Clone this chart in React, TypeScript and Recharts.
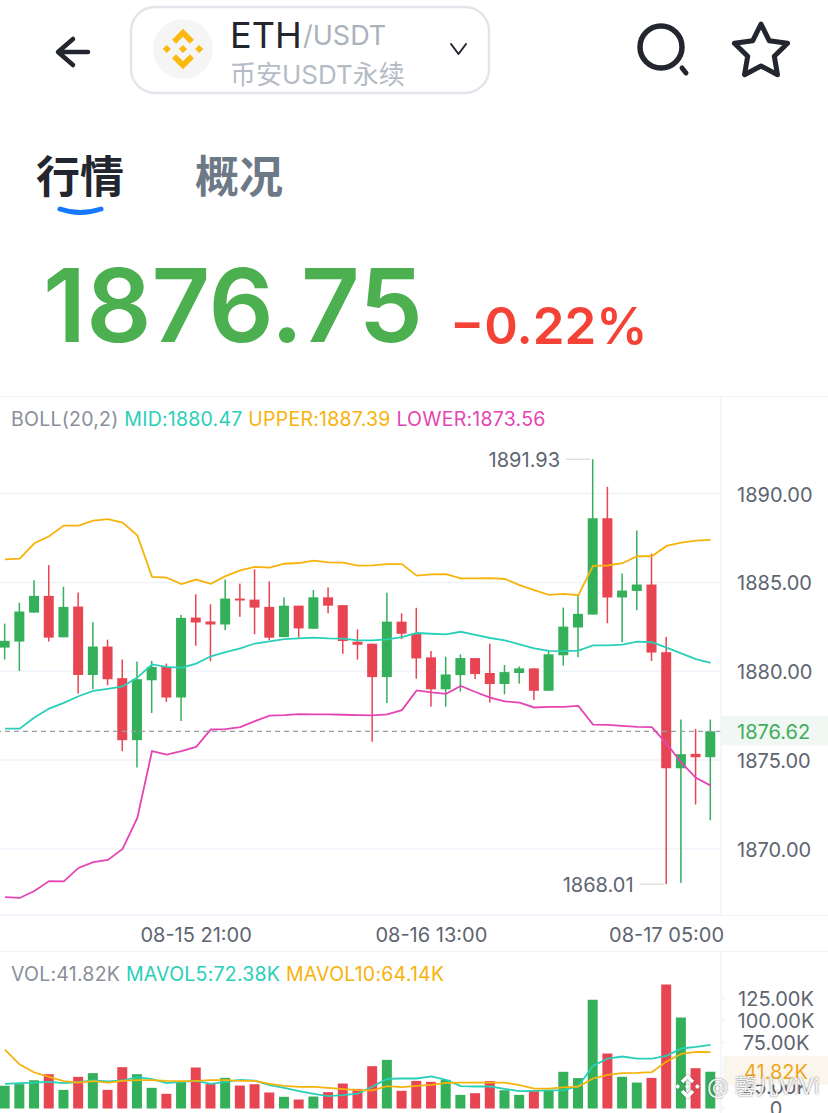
import React from 'react';
import {
  ComposedChart,
  Bar,
  Line,
  XAxis,
  YAxis,
  CartesianGrid,
  Cell,
  ReferenceLine,
  ReferenceDot,
} from 'recharts';

const TIMES = [
  '08-15 08:00', '08-15 09:00', '08-15 10:00', '08-15 11:00', '08-15 12:00', '08-15 13:00', '08-15 14:00',
  '08-15 15:00', '08-15 16:00', '08-15 17:00', '08-15 18:00', '08-15 19:00', '08-15 20:00', '08-15 21:00',
  '08-15 22:00', '08-15 23:00', '08-16 00:00', '08-16 01:00', '08-16 02:00', '08-16 03:00', '08-16 04:00',
  '08-16 05:00', '08-16 06:00', '08-16 07:00', '08-16 08:00', '08-16 09:00', '08-16 10:00', '08-16 11:00',
  '08-16 12:00', '08-16 13:00', '08-16 14:00', '08-16 15:00', '08-16 16:00', '08-16 17:00', '08-16 18:00',
  '08-16 19:00', '08-16 20:00', '08-16 21:00', '08-16 22:00', '08-16 23:00', '08-17 00:00', '08-17 01:00',
  '08-17 02:00', '08-17 03:00', '08-17 04:00', '08-17 05:00', '08-17 06:00', '08-17 07:00', '08-17 08:00',
];
const TIME_TICKS = ['08-15 21:00', '08-16 13:00', '08-17 05:00'];

const OPENS = [
  1881.33, 1881.67, 1883.3, 1884.24, 1881.91, 1883.64, 1879.79, 1881.39, 1879.61, 1876.12,
  1879.49, 1880.24, 1878.52, 1883.02, 1882.8, 1882.63, 1884.09, 1884.03, 1883.62, 1881.92,
  1883.69, 1882.39, 1884.16, 1883.72, 1881.66, 1881.55, 1879.67, 1882.79, 1882.13, 1880.78,
  1878.98, 1879.78, 1880.74, 1879.9, 1879.28, 1879.9, 1880.16, 1878.9, 1880.9, 1882.46,
  1883.19, 1888.61, 1884.15, 1884.52, 1884.88, 1881.07, 1874.54, 1875.35, 1875.16,
];
const CLOSES = [
  1881.71, 1883.36, 1884.24, 1881.89, 1883.62, 1879.79, 1881.39, 1879.55, 1876.12, 1879.55,
  1880.24, 1878.52, 1883.0, 1882.74, 1882.63, 1884.09, 1883.98, 1883.58, 1881.89, 1883.69,
  1882.41, 1884.16, 1883.69, 1881.7, 1881.49, 1879.67, 1882.79, 1882.11, 1880.72, 1878.98,
  1879.82, 1880.74, 1879.84, 1879.28, 1879.95, 1880.16, 1878.9, 1880.95, 1882.51, 1883.23,
  1888.61, 1884.15, 1884.54, 1884.88, 1881.05, 1874.54, 1875.33, 1875.16, 1876.62,
];
const HIGHS = [
  1882.68, 1883.85, 1885.12, 1885.97, 1884.75, 1884.43, 1882.76, 1881.78, 1880.66, 1880.54,
  1880.58, 1880.43, 1883.17, 1884.33, 1883.77, 1885.16, 1884.93, 1885.74, 1885.05, 1884.16,
  1883.69, 1884.57, 1884.72, 1883.72, 1882.35, 1881.55, 1884.42, 1883.26, 1883.57, 1881.14,
  1880.82, 1880.95, 1880.74, 1881.55, 1880.35, 1880.27, 1880.16, 1881.14, 1883.58, 1884.28,
  1891.93, 1890.38, 1885.5, 1887.92, 1886.62, 1881.93, 1877.28, 1876.75, 1877.28,
];
const LOWS = [
  1880.66, 1880.02, 1883.3, 1881.67, 1881.91, 1878.74, 1878.99, 1879.21, 1875.5, 1874.58,
  1877.65, 1878.27, 1877.2, 1881.43, 1880.56, 1882.31, 1883.06, 1882.08, 1881.74, 1881.92,
  1881.89, 1882.39, 1883.26, 1880.98, 1880.65, 1876.03, 1878.21, 1881.81, 1879.58, 1878.0,
  1878.0, 1878.85, 1879.56, 1878.23, 1878.7, 1879.3, 1878.38, 1878.89, 1880.32, 1880.79,
  1883.19, 1882.7, 1881.63, 1883.43, 1880.58, 1868.01, 1868.09, 1872.5, 1871.61,
];
const BOLL_UPPER = [
  1886.3, 1886.34, 1887.2, 1887.6, 1888.2, 1888.2, 1888.48, 1888.56, 1888.37, 1887.65,
  1885.31, 1885.27, 1884.9, 1885.16, 1884.92, 1885.35, 1885.68, 1885.87, 1885.83, 1886.05,
  1886.09, 1886.22, 1886.13, 1886.11, 1885.94, 1885.96, 1886.03, 1886.03, 1885.38, 1885.45,
  1885.47, 1885.23, 1885.23, 1885.24, 1885.19, 1884.85, 1884.57, 1884.3, 1884.35, 1884.28,
  1885.93, 1885.95, 1886.08, 1886.47, 1886.47, 1887.05, 1887.24, 1887.35, 1887.39,
];
const BOLL_MID = [
  1876.77, 1876.77, 1877.39, 1877.9, 1878.22, 1878.59, 1878.89, 1879.01, 1879.14, 1879.64,
  1880.38, 1880.24, 1880.19, 1880.43, 1880.84, 1881.07, 1881.29, 1881.56, 1881.68, 1881.81,
  1881.85, 1881.89, 1881.85, 1881.83, 1881.74, 1881.74, 1881.79, 1881.92, 1882.15, 1882.11,
  1882.07, 1882.22, 1882.05, 1881.87, 1881.74, 1881.51, 1881.29, 1881.14, 1881.13, 1881.16,
  1881.46, 1881.46, 1881.5, 1881.67, 1881.63, 1881.33, 1881.0, 1880.68, 1880.47,
];
const BOLL_LOWER = [
  1867.29, 1867.24, 1867.63, 1868.19, 1868.17, 1868.93, 1869.26, 1869.38, 1870.0, 1871.74,
  1875.5, 1875.31, 1875.5, 1875.74, 1876.72, 1876.74, 1876.85, 1877.19, 1877.5, 1877.53,
  1877.59, 1877.57, 1877.57, 1877.55, 1877.53, 1877.51, 1877.57, 1877.81, 1878.92, 1878.81,
  1878.73, 1879.17, 1878.83, 1878.51, 1878.3, 1878.23, 1877.96, 1877.99, 1877.99, 1878.05,
  1877.0, 1876.98, 1876.92, 1876.87, 1876.85, 1875.93, 1874.86, 1874.0, 1873.56,
];
// volumes in thousands
const VOLUMES = [
  25.8, 27.7, 32.2, 39.0, 21.2, 36.0, 40.2, 21.2, 47.0, 39.0,
  23.5, 16.7, 29.9, 46.6, 27.7, 34.8, 26.1, 27.7, 18.2, 13.3,
  10.2, 13.6, 18.6, 28.4, 22.3, 48.1, 55.3, 20.1, 31.4, 30.3,
  32.6, 15.5, 17.4, 31.1, 20.8, 15.5, 20.5, 20.8, 41.7, 34.5,
  123.5, 62.5, 36.0, 29.5, 34.8, 140.9, 103.4, 45.8, 41.82,
];
const MAVOL5 = [
  28.0, 28.8, 29.5, 30.3, 28.8, 29.9, 31.8, 30.7, 31.8, 35.6,
  33.3, 28.8, 30.3, 31.4, 28.0, 30.3, 32.6, 31.8, 26.5, 23.5,
  19.7, 16.7, 14.0, 15.2, 17.0, 25.0, 33.7, 34.1, 34.1, 36.4,
  32.6, 25.4, 25.0, 25.0, 22.3, 19.7, 20.1, 20.5, 20.8, 25.4,
  48.5, 56.8, 59.1, 56.8, 56.8, 59.8, 68.2, 70.1, 72.38,
];
const MAVOL10 = [
  67.0, 50.0, 40.9, 36.0, 31.1, 29.5, 31.1, 29.5, 31.4, 32.2,
  32.2, 31.4, 31.1, 31.4, 32.2, 32.2, 31.4, 31.4, 28.0, 25.8,
  24.6, 24.6, 23.5, 22.0, 20.8, 20.5, 25.4, 24.2, 25.8, 26.9,
  29.2, 29.5, 29.5, 29.5, 29.5, 26.5, 22.7, 22.7, 23.9, 25.0,
  34.1, 38.3, 40.2, 40.5, 41.3, 53.4, 62.1, 64.4, 64.14,
];
const PRICE_TICKS = [1870, 1875, 1880, 1885, 1890];
const LAST_PRICE = 1876.62;
const LAST_VOLUME = 41.82;
// the current volume goes last so its tag paints over the regular ticks
const VOLUME_TICKS = [0, 25, 50, 75, 100, 125, LAST_VOLUME];
const MAX_PRICE = 1891.93;
const MIN_PRICE = 1868.01;

const GREEN = '#34B05A';
const RED = '#E84553';
const TEAL = '#2ACFB8';
const ORANGE = '#F7B30C';
const MAGENTA = '#E544B5';
const GRID = '#EFF3FA';
const AXIS_TEXT = '#5E6470';
const LATIN = 'Inter, "Noto Sans CJK SC", sans-serif';
const AXIS_FONT = 20;

const priceData = TIMES.map((time, i) => ({
  time,
  open: OPENS[i],
  close: CLOSES[i],
  high: HIGHS[i],
  low: LOWS[i],
  range: [LOWS[i], HIGHS[i]],
  upper: BOLL_UPPER[i],
  mid: BOLL_MID[i],
  lower: BOLL_LOWER[i],
}));

const volumeData = TIMES.map((time, i) => ({
  time,
  volume: VOLUMES[i],
  ma5: MAVOL5[i],
  ma10: MAVOL10[i],
  up: CLOSES[i] >= OPENS[i],
}));

const Candle = ({ x, y, width, height, payload }: any) => {
  const { open, close, high, low } = payload;
  const top = Math.min(y, y + height);
  const span = Math.abs(height);
  const perUnit = span / (high - low);
  const bodyTop = top + (high - Math.max(open, close)) * perUnit;
  const bodyHeight = Math.max(Math.abs(open - close) * perUnit, 1);
  const color = close >= open ? GREEN : RED;
  return (
    <g>
      <rect x={x + width / 2 - 0.75} y={top} width={1.5} height={span} fill={color} />
      <rect x={x} y={bodyTop} width={width} height={bodyHeight} fill={color} />
    </g>
  );
};

// the little "1891.93 ---" callouts next to the extreme wicks
const Extreme = ({ cx, cy, label, gap }: any) => (
  <g>
    <line x1={cx - gap - 24} y1={cy} x2={cx - gap} y2={cy} stroke="#D5D8DD" strokeWidth={1.2} />
    <text x={cx - gap - 30} y={cy + 1} textAnchor="end" dominantBaseline="central" fontSize={AXIS_FONT} fill={AXIS_TEXT} fontFamily={LATIN}>
      {label}
    </text>
  </g>
);

const PriceTick = ({ x, y, payload }: any) => (
  <text x={x} y={y + 1} dominantBaseline="central" fontSize={AXIS_FONT} fill={AXIS_TEXT} fontFamily={LATIN}>
    {payload.value.toFixed(2)}
  </text>
);

const PriceTag = ({ viewBox }: any) => (
  <g>
    <rect x={viewBox.x + viewBox.width} y={viewBox.y - 15} width={107} height={29} fill="#F1F7F3" />
    <text x={viewBox.x + viewBox.width + 16} y={viewBox.y + 1} dominantBaseline="central" fontSize={AXIS_FONT} fill="#3FAE5C" fontFamily={LATIN}>
      {LAST_PRICE.toFixed(2)}
    </text>
  </g>
);

const VolumeTick = ({ x, y, payload }: any) => {
  if (payload.value === LAST_VOLUME) {
    return (
      <g>
        <rect x={x - 4} y={y - 16} width={107} height={29} fill="#FAF6EE" />
        <text x={x + 49} y={y} textAnchor="middle" dominantBaseline="central" fontSize={AXIS_FONT} fill="#EDA81C" fontFamily={LATIN}>
          {LAST_VOLUME.toFixed(2)}K
        </text>
      </g>
    );
  }
  return (
    <text x={x + 49} y={y} textAnchor="middle" dominantBaseline="central" fontSize={AXIS_FONT} fill={AXIS_TEXT} fontFamily={LATIN}>
      {payload.value === 0 ? '0' : `${payload.value.toFixed(2)}K`}
    </text>
  );
};

const BinanceMark = ({ x, y, size, fill }: any) => (
  <g transform={`translate(${x} ${y}) scale(${size / 32})`} fill={fill}>
    <path d="M16 4l-6.5 6.5 2.4 2.4L16 8.8l4.1 4.1 2.4-2.4z" />
    <path d="M16 28l-6.5-6.5 2.4-2.4L16 23.2l4.1-4.1 2.4 2.4z" />
    <path d="M4 16l2.4-2.4L8.8 16l-2.4 2.4z" />
    <path d="M23.2 16l2.4-2.4L28 16l-2.4 2.4z" />
    <path d="M16 13.6L18.4 16 16 18.4 13.6 16z" />
  </g>
);

const Txt = ({ x, y, size, color, weight, children }: any) => (
  <div
    style={{
      position: 'absolute',
      left: x,
      top: y,
      transform: 'translateY(-50%)',
      fontFamily: LATIN,
      fontSize: size,
      fontWeight: weight || 400,
      color,
      lineHeight: 1,
      whiteSpace: 'nowrap',
    }}
  >
    {children}
  </div>
);

const Header = () => (
  <>
    <svg width={828} height={396} style={{ position: 'absolute', left: 0, top: 0 }}>
      <path d="M88 52H59M73 39L58 52L73 65" fill="none" stroke="#23262E" strokeWidth={4.5} strokeLinecap="round" strokeLinejoin="round" />
      <rect x={131} y={7} width={358} height={86} rx={24} fill="#fff" stroke="#E2E5EA" strokeWidth={2.5} />
      <circle cx={183} cy={49} r={30} fill="#F5F5F5" />
      <BinanceMark x={156} y={22} size={54} fill="#FBB80F" />
      <path d="M451 44L458.500 54L466 44" fill="none" stroke="#23262E" strokeWidth={2} strokeLinecap="round" strokeLinejoin="round" />
      <circle cx={661} cy={47} r={21} fill="none" stroke="#23262E" strokeWidth={5.5} />
      <path d="M682 68L686 73" stroke="#23262E" strokeWidth={5} strokeLinecap="round" />
      <polygon
        points="761,24 769.2,40.7 787.6,43.3 774.300,56.300 777.500,74.700 761,66 744.500,74.700 747.700,56.300 734.400,43.300 752.800,40.700"
        fill="none"
        stroke="#23262E"
        strokeWidth={5}
        strokeLinejoin="round"
      />
      <path d="M60 209Q80 216 101 209" fill="none" stroke="#1677FF" strokeWidth={5} strokeLinecap="round" />
    </svg>
    <Txt x={230} y={35} size={36} color="#23262E">ETH</Txt>
    <Txt x={303} y={35} size={27} color="#ABB2BD">/USDT</Txt>
    <Txt x={230} y={75} size={26} color="#B5BBC5">币安USDT永续</Txt>
    <Txt x={36} y={177} size={44} color="#23262E" weight={700}>行情</Txt>
    <Txt x={195} y={177} size={44} color="#6E7988" weight={700}>概况</Txt>
    <Txt x={43} y={305} size={102} color="#4CAF50" weight={600}>1876.75</Txt>
    <Txt x={450} y={325} size={51} color="#F44336" weight={600}>−0.22%</Txt>
  </>
);

const HLine = ({ y }: any) => (
  <div style={{ position: 'absolute', left: 0, top: y, width: 828, height: 1.5, background: GRID }} />
);

const Watermark = () => (
  <>
    <svg width={33} height={33} style={{ position: 'absolute', left: 671, top: 1070 }}>
      <g style={{ filter: 'drop-shadow(0 0 1.5px rgba(90,90,90,0.7))' }}>
        <BinanceMark x={0} y={0} size={33} fill="#FFFFFF" />
      </g>
    </svg>
    <div
      style={{
        position: 'absolute',
        left: 707,
        top: 1086,
        transform: 'translateY(-50%)',
        fontFamily: LATIN,
        fontSize: 22,
        lineHeight: 1,
        color: 'rgba(255,255,255,0.92)',
        textShadow: '0 0 2px rgba(80,80,80,0.85)',
        whiteSpace: 'nowrap',
      }}
    >
      @ 馨儿ViVi
    </div>
  </>
);

const Legend = ({ top, items }: any) => (
  <div
    style={{
      position: 'absolute',
      left: 11,
      top,
      transform: 'translateY(-50%)',
      fontFamily: LATIN,
      fontSize: 19.5,
      letterSpacing: 0.24,
      lineHeight: 1,
      whiteSpace: 'pre',
    }}
  >
    {items.map((item: any) => (
      <span key={item.text} style={{ color: item.color }}>
        {item.text}{' '}
      </span>
    ))}
  </div>
);

const App: React.FC = () => {
  return (
    <div style={{ position: 'absolute', left: 0, top: 0, width: 828, height: 1113, overflow: 'hidden', background: '#fff' }}>
      <Header />

      {/* price panel */}
      <div style={{ position: 'absolute', left: 0, top: 396 }}>
        <ComposedChart width={828} height={555} data={priceData} margin={{ top: 0, right: 0, bottom: 0, left: -2.35 }}>
          <CartesianGrid horizontal vertical={false} stroke={GRID} strokeWidth={1.5} />
          <XAxis
            dataKey="time"
            ticks={TIME_TICKS}
            interval={0}
            height={36}
            padding={{ left: 0, right: 3 }}
            axisLine={false}
            tickLine={false}
            tickMargin={7}
            tick={{ fill: AXIS_TEXT, fontSize: AXIS_FONT, fontFamily: LATIN }}
          />
          <YAxis
            orientation="right"
            width={107}
            type="number"
            domain={[1866.28, 1895.49]}
            ticks={PRICE_TICKS}
            interval={0}
            allowDataOverflow
            axisLine={{ stroke: GRID, strokeWidth: 1.5 }}
            tickLine={false}
            tickMargin={16}
            tickSize={0}
            tick={<PriceTick />}
          />
          <ReferenceLine y={LAST_PRICE} stroke="#9A9EA6" strokeWidth={1.2} strokeDasharray="5 4" label={<PriceTag />} />
          <Bar dataKey="range" barSize={10} shape={<Candle />} isAnimationActive={false} />
          <Line dataKey="upper" type="linear" stroke={ORANGE} strokeWidth={1.8} dot={false} isAnimationActive={false} />
          <Line dataKey="mid" type="linear" stroke={TEAL} strokeWidth={1.8} dot={false} isAnimationActive={false} />
          <Line dataKey="lower" type="linear" stroke={MAGENTA} strokeWidth={1.8} dot={false} isAnimationActive={false} />
          <ReferenceDot x={TIMES[40]} y={MAX_PRICE} ifOverflow="visible" shape={<Extreme label={MAX_PRICE.toFixed(2)} gap={3} />} />
          <ReferenceDot x={TIMES[45]} y={MIN_PRICE} ifOverflow="visible" shape={<Extreme label={MIN_PRICE.toFixed(2)} gap={3} />} />
        </ComposedChart>
      </div>

      {/* volume panel */}
      <div style={{ position: 'absolute', left: 0, top: 951 }}>
        <ComposedChart width={828} height={162} data={volumeData} margin={{ top: 0, right: 0, bottom: 0, left: -2.35 }}>
          <XAxis dataKey="time" hide padding={{ left: 0, right: 3 }} />
          <YAxis
            orientation="right"
            width={107}
            type="number"
            domain={[-5.11, 179]}
            ticks={VOLUME_TICKS}
            interval={0}
            allowDataOverflow
            axisLine={{ stroke: GRID, strokeWidth: 1.5 }}
            tickLine={{ stroke: GRID, strokeWidth: 1.5 }}
            tickSize={4}
            tick={<VolumeTick />}
          />
          <Bar dataKey="volume" barSize={10} isAnimationActive={false}>
            {volumeData.map((entry, index) => (
              <Cell key={`cell-${index}`} fill={entry.up ? GREEN : RED} />
            ))}
          </Bar>
          <Line dataKey="ma5" type="linear" stroke={TEAL} strokeWidth={1.8} dot={false} isAnimationActive={false} />
          <Line dataKey="ma10" type="linear" stroke={ORANGE} strokeWidth={1.8} dot={false} isAnimationActive={false} />
        </ComposedChart>
      </div>

      <HLine y={395.5} />
      <HLine y={914.5} />
      <HLine y={950.5} />

      <Legend
        top={419.5}
        items={[
          { text: 'BOLL(20,2)', color: '#8A8F99' },
          { text: 'MID:1880.47', color: TEAL },
          { text: 'UPPER:1887.39', color: ORANGE },
          { text: 'LOWER:1873.56', color: MAGENTA },
        ]}
      />
      <Legend
        top={975}
        items={[
          { text: 'VOL:41.82K', color: '#8A8F99' },
          { text: 'MAVOL5:72.38K', color: TEAL },
          { text: 'MAVOL10:64.14K', color: ORANGE },
        ]}
      />
      <Watermark />
    </div>
  );
};

export default App;
